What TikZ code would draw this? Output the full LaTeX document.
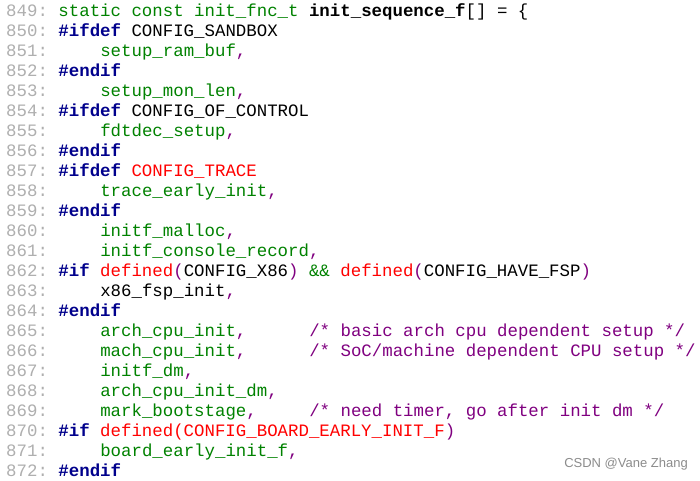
\documentclass[tikz,border=0pt]{standalone}
\usepackage{fontspec}
\setmonofont{Liberation Mono}
\newfontfamily\wmfont{Liberation Sans}
\definecolor{lnum}{RGB}{175,175,175}
\definecolor{kw}{RGB}{0,0,140}
\definecolor{fn}{RGB}{0,130,0}
\definecolor{pu}{RGB}{128,0,128}
\definecolor{rd}{RGB}{255,0,0}
\newcommand\cG[1]{\textcolor{fn}{#1}}
\newcommand\cK[1]{\textcolor{kw}{\bfseries #1}}
\newcommand\cP[1]{\textcolor{pu}{#1}}
\newcommand\cR[1]{\textcolor{rd}{#1}}
\newcommand\cm{\textcolor{pu}{,}}
\tikzset{code/.style={anchor=base west,inner sep=0pt,font=\ttfamily\fontsize{17.4}{20}\selectfont,text=black}}
\newcommand\cl[3]{\node[code] (c#1x#2) at ({6+#2*10.45},{-(16+(#1)*20)}) {#3};}
\begin{document}
\begin{tikzpicture}[x=1pt,y=1pt]
\useasboundingbox[fill=white] (0,0) rectangle (700,-480);
\foreach \i in {0,...,23}{
  \pgfmathtruncatemacro\n{849+\i}
  \node[code,text=lnum] (n\i) at (6,{-(16+\i*20)}) {\n:};
}
\cl{0}{5}{\cG{static const init\_fnc\_t} \textbf{init\_sequence\_f}[] = \{}
\cl{1}{5}{\cK{\#ifdef} CONFIG\_SANDBOX}
\cl{2}{9}{\cG{setup\_ram\_buf}\cm}
\cl{3}{5}{\cK{\#endif}}
\cl{4}{9}{\cG{setup\_mon\_len}\cm}
\cl{5}{5}{\cK{\#ifdef} CONFIG\_OF\_CONTROL}
\cl{6}{9}{\cG{fdtdec\_setup}\cm}
\cl{7}{5}{\cK{\#endif}}
\cl{8}{5}{\cK{\#ifdef} \cR{CONFIG\_TRACE}}
\cl{9}{9}{\cG{trace\_early\_init}\cm}
\cl{10}{5}{\cK{\#endif}}
\cl{11}{9}{\cG{initf\_malloc}\cm}
\cl{12}{9}{\cG{initf\_console\_record}\cm}
\cl{13}{5}{\cK{\#if} \cR{defined}\cP{(}CONFIG\_X86\cP{)} \cG{\&\&} \cR{defined}\cP{(}CONFIG\_HAVE\_FSP\cP{)}}
\cl{14}{9}{x86\_fsp\_init\cm}
\cl{15}{5}{\cK{\#endif}}
\cl{16}{9}{\cG{arch\_cpu\_init}\cm}
\cl{16}{29}{\cP{/* basic arch cpu dependent setup */}}
\cl{17}{9}{\cG{mach\_cpu\_init}\cm}
\cl{17}{29}{\cP{/* SoC/machine dependent CPU setup */}}
\cl{18}{9}{\cG{initf\_dm}\cm}
\cl{19}{9}{\cG{arch\_cpu\_init\_dm}\cm}
\cl{20}{9}{\cG{mark\_bootstage}\cm}
\cl{20}{29}{\cP{/* need timer, go after init dm */}}
\cl{21}{5}{\cK{\#if} \cR{defined(CONFIG\_BOARD\_EARLY\_INIT\_F}\cP{)}}
\cl{22}{9}{\cG{board\_early\_init\_f}\cm}
\cl{23}{5}{\cK{\#endif}}
\node[anchor=base east,inner sep=0pt,font=\wmfont\fontsize{13}{15}\selectfont,text=black!45] (wm) at (688,-467) {CSDN @Vane Zhang};
\end{tikzpicture}
\end{document}
